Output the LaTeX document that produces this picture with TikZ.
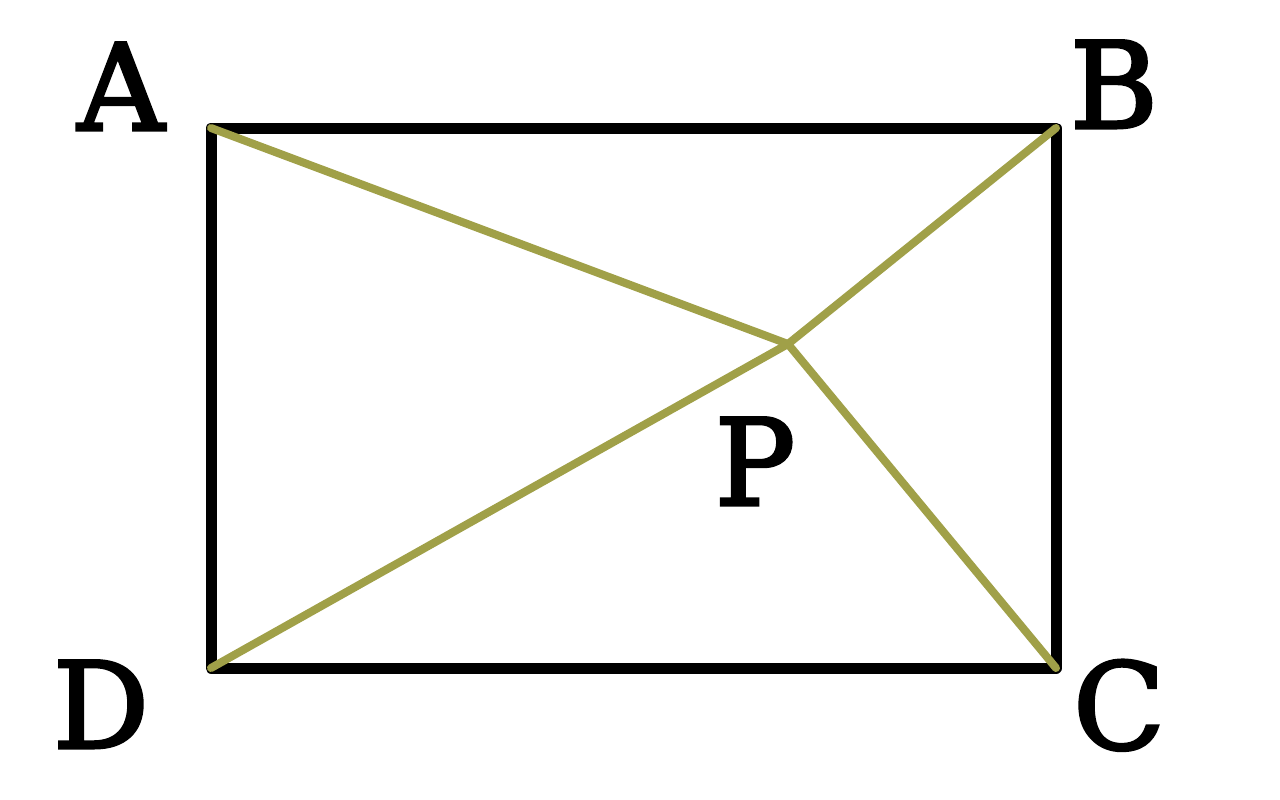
\documentclass[tikz,border=0pt]{standalone}
\usepackage{fontspec}
\setmainfont{DejaVu Serif}
\newfontfamily\lblfont[FakeBold=2.5]{DejaVu Serif}
\usepackage{tikz}
\usetikzlibrary{positioning}
\definecolor{olive}{RGB}{160,160,72}
\tikzstyle{frame} = [line width=11pt, black, line join=round]
\tikzstyle{seg} = [line width=8pt, olive, line cap=round]
\tikzstyle{lbl} = [inner sep=0pt, anchor=base, font=\fontsize{120}{144}\lblfont]

\begin{document}
\begin{tikzpicture}[x=1pt, y=-1pt]
        \useasboundingbox (0,0) rectangle (1280,800);
        % Corners and point
        \coordinate (A) at (211,128);
        \coordinate (B) at (1056,128);
        \coordinate (C) at (1056,668);
        \coordinate (D) at (211,668);
        \coordinate (P) at (788,344);
        % Rectangle
        \draw[frame] (A) -- (B) -- (C) -- (D) -- cycle;
        % Segments to P
        \foreach \c in {A,B,C,D}
            \draw[seg] (\c) -- (P);
        % Labels
        \node[lbl] (lA) at (121,130) {A};
        \node[lbl] (lB) at (1114,128) {B};
        \node[lbl] (lC) at (1119,749) {C};
        \node[lbl] (lD) at (101,748) {D};
        \node[lbl] (lP) at (755,505) {P};
\end{tikzpicture}
\end{document}
